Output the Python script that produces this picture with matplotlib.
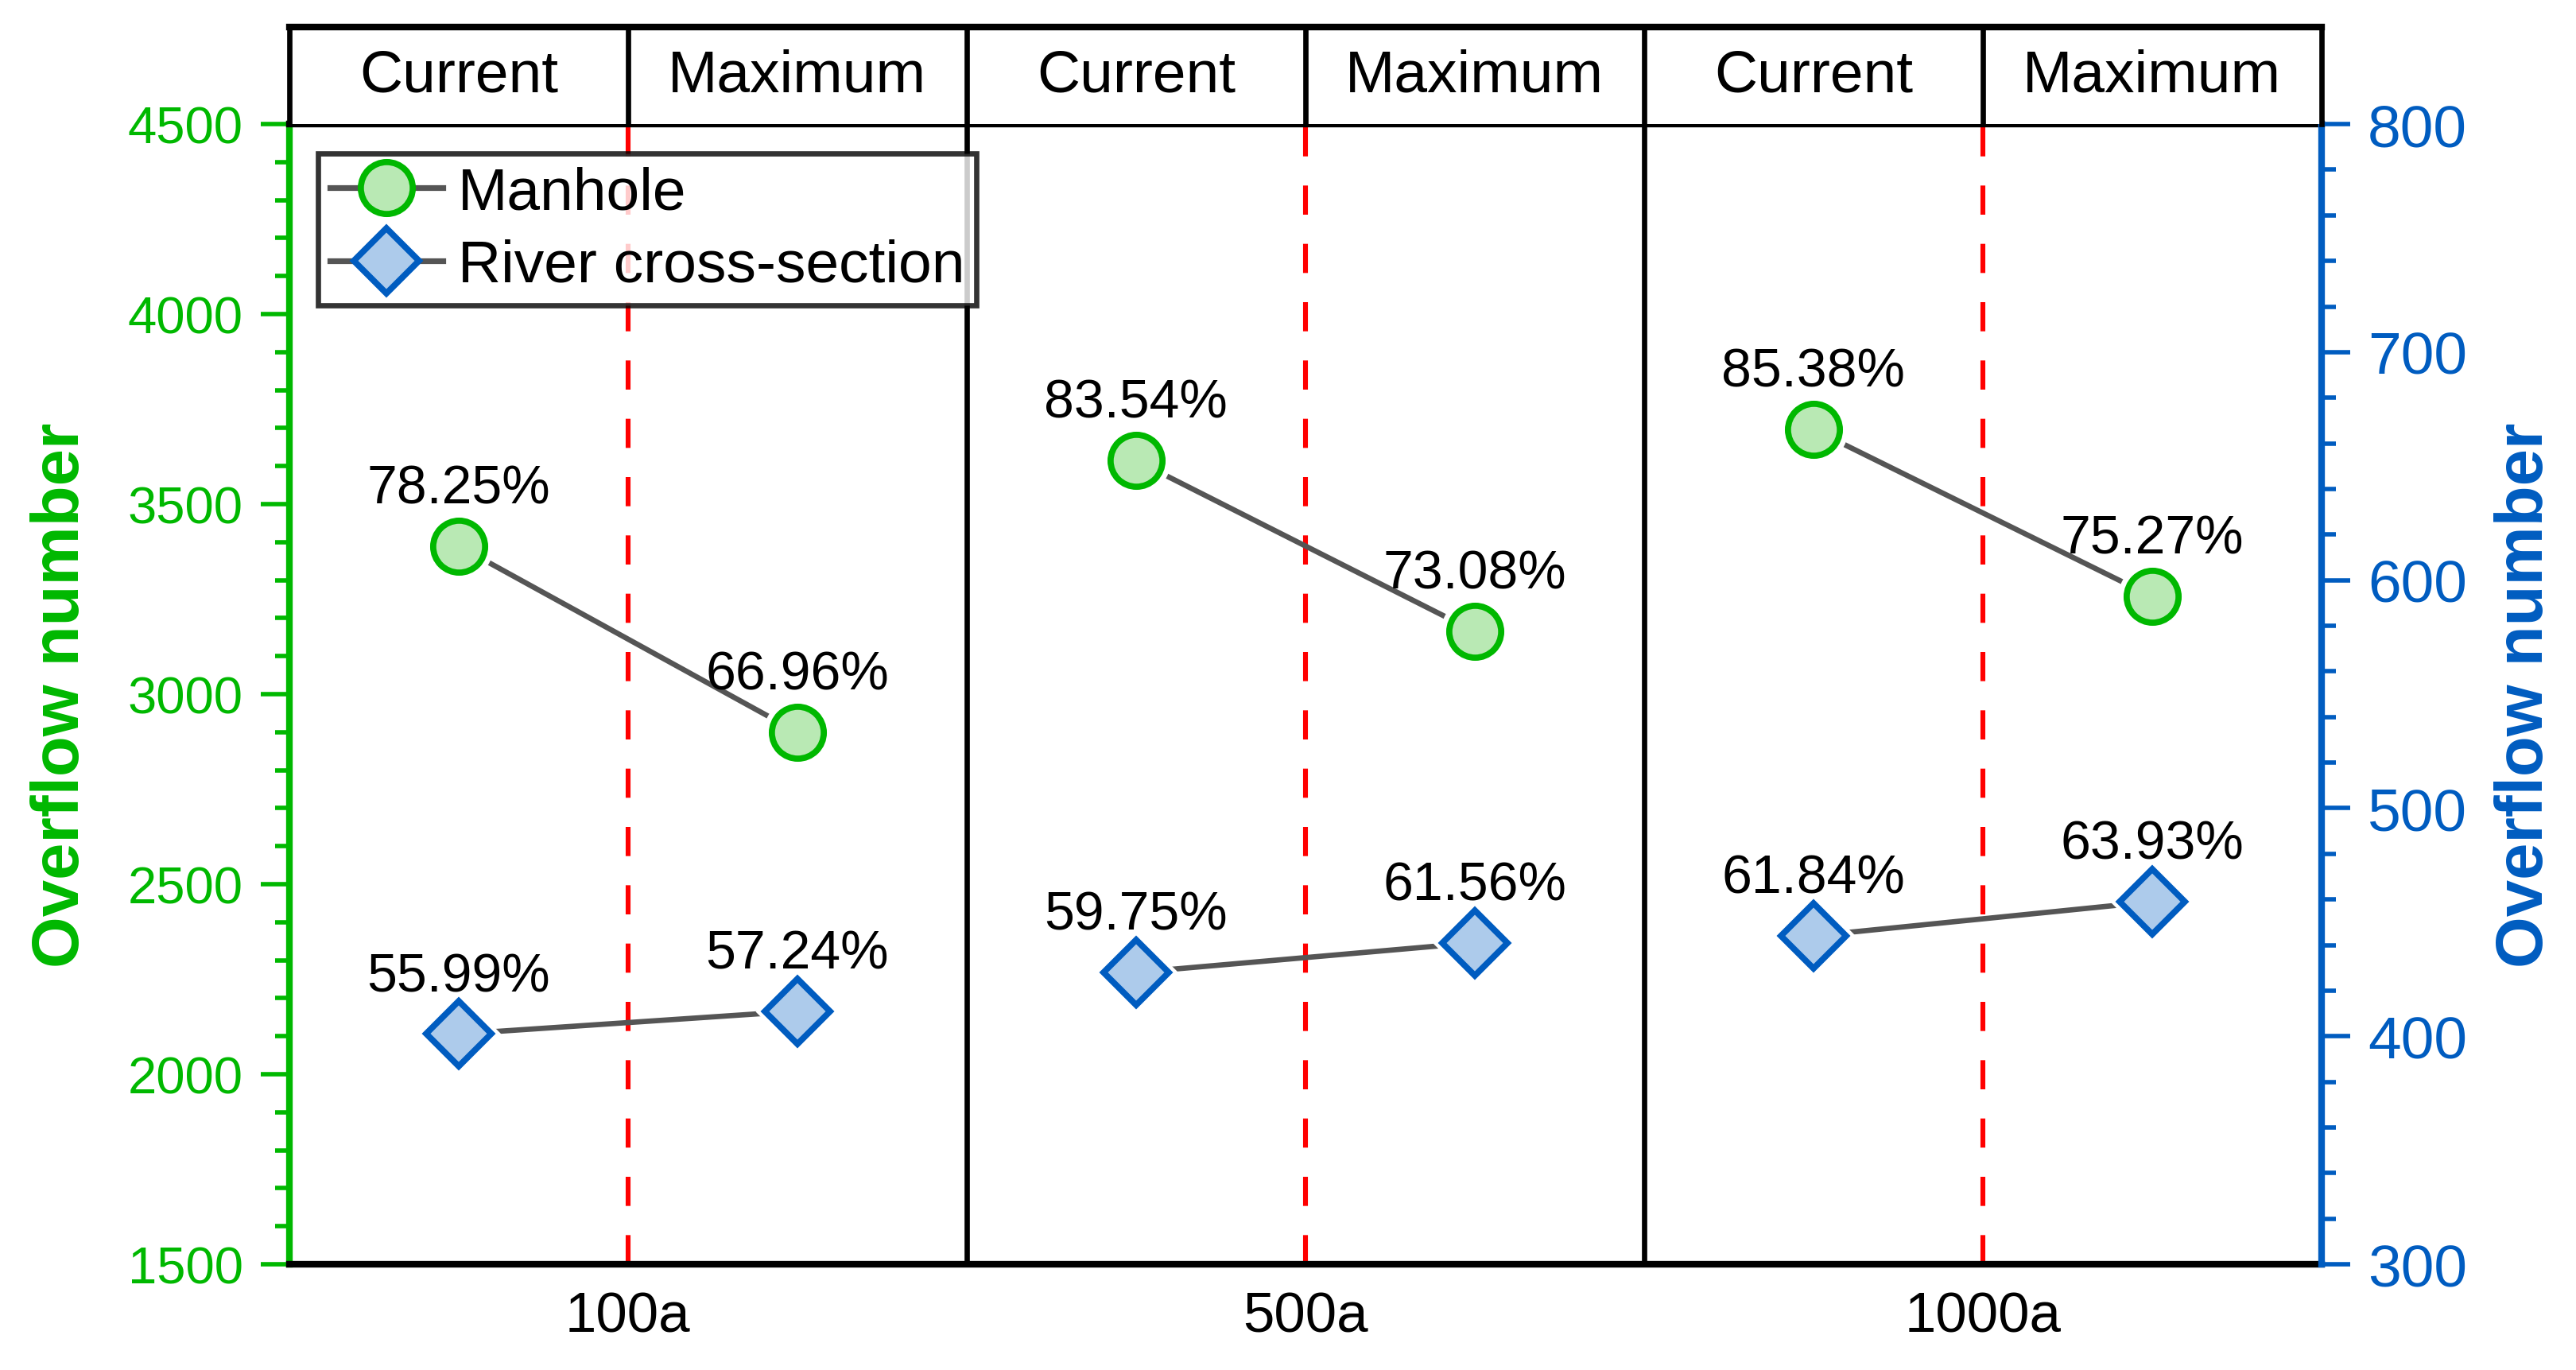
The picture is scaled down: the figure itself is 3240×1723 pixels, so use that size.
import matplotlib.pyplot as plt
from matplotlib.lines import Line2D
from matplotlib.ticker import MultipleLocator

#values
periods = ["100a", "500a", "1000a"]
scenarios = ["Current", "Maximum"]
manhole = [3390, 2900, 3615, 3165, 3697, 3257]
manhole_pct = ["78.25%", "66.96%", "83.54%", "73.08%", "85.38%", "75.27%"]
river = [401, 411, 428, 441, 444, 459]
river_pct = ["55.99%", "57.24%", "59.75%", "61.56%", "61.84%", "63.93%"]

green = "#00b800"
green_fill = "#b9e9b4"
blue = "#005cc0"
blue_fill = "#adcbeb"
line_grey = "#555555"

plt.rcParams["font.family"] = ["Liberation Sans", "DejaVu Sans"]

fig = plt.figure(figsize=(16.2, 8.62), dpi=200)
ax = fig.add_axes([0.1123, 0.0771, 0.7889, 0.8318])
ax2 = ax.twinx()
hx = fig.add_axes([0.1123, 0.9089, 0.7889, 0.0708])

#x position of each point: two scenarios per period
xpos = []
for i in range(len(periods)):
    for j in range(len(scenarios)):
        xpos.append(2 * i + j + 0.5)

#section dividers and dashed scenario split
for i in range(1, len(periods)):
    ax.axvline(2 * i, color="black", lw=2.4, zorder=1)
for i in range(len(periods)):
    ax.axvline(2 * i + 1, color="red", lw=2.2, dashes=(6, 6), zorder=1)

#plot each period as its own pair (white halo gives the gap at the markers)
for i in range(len(periods)):
    xs = xpos[2 * i:2 * i + 2]
    ys = manhole[2 * i:2 * i + 2]
    ax.plot(xs, ys, color=line_grey, lw=2.4, zorder=3)
    ax.plot(xs, ys, ls="none", marker="o", ms=30, mfc="white", mec="white", zorder=4)
    ax.plot(xs, ys, ls="none", marker="o", ms=23.5, mfc=green_fill, mec=green, mew=2.8, zorder=5)
    ys = river[2 * i:2 * i + 2]
    ax2.plot(xs, ys, color=line_grey, lw=2.4, zorder=3)
    ax2.plot(xs, ys, ls="none", marker="D", ms=26, mfc="white", mec="white", zorder=4)
    ax2.plot(xs, ys, ls="none", marker="D", ms=21, mfc=blue_fill, mec=blue, mew=2.8, zorder=5)

#percentage labels above markers
for k in range(len(xpos)):
    ax.annotate(manhole_pct[k], (xpos[k], manhole[k]), xytext=(0, 26),
                textcoords="offset points", ha="center", va="center", fontsize=24.5)
    ax2.annotate(river_pct[k], (xpos[k], river[k]), xytext=(0, 26),
                 textcoords="offset points", ha="center", va="center", fontsize=24.5)

#left axis
ax.set_xlim(0, 6)
ax.set_ylim(1500, 4500)
ax.yaxis.set_major_locator(MultipleLocator(500))
ax.yaxis.set_minor_locator(MultipleLocator(100))
ax.tick_params(axis="y", which="major", length=13, width=2, color=green,
               labelcolor=green, labelsize=23.5, pad=8)
ax.tick_params(axis="y", which="minor", length=6.5, width=2, color=green)
ax.set_ylabel("Overflow number", color=green, fontsize=30, fontweight="bold", labelpad=16)
ax.set_xticks([1, 3, 5], periods)
ax.tick_params(axis="x", length=0, labelsize=25.5, pad=12)
ax.spines["left"].set_color(green)
ax.spines["left"].set_linewidth(3)
ax.spines["bottom"].set_linewidth(3)
ax.spines["top"].set_linewidth(3)
ax.spines["right"].set_visible(False)

#right axis
ax2.set_ylim(300, 800)
ax2.yaxis.set_major_locator(MultipleLocator(100))
ax2.yaxis.set_minor_locator(MultipleLocator(20))
ax2.tick_params(axis="y", which="major", length=13, width=2, color=blue,
                labelcolor=blue, labelsize=27, pad=8)
ax2.tick_params(axis="y", which="minor", length=6.5, width=2, color=blue)
ax2.set_ylabel("Overflow number", color=blue, fontsize=30, fontweight="bold", labelpad=12)
ax2.spines["right"].set_color(blue)
ax2.spines["right"].set_linewidth(3)
for s in ["left", "top", "bottom"]:
    ax2.spines[s].set_visible(False)

#header row
hx.set_xlim(0, 6)
hx.set_ylim(0, 1)
hx.set_xticks([])
hx.set_yticks([])
hx.spines["top"].set_linewidth(3)
hx.spines["bottom"].set_visible(False)
hx.spines["left"].set_linewidth(2.4)
hx.spines["right"].set_linewidth(2.4)
for i in range(1, 6):
    hx.axvline(i, color="black", lw=2.4)
for k in range(len(xpos)):
    hx.text(xpos[k], 0.5, scenarios[k % 2], ha="center", va="center", fontsize=27)

#legend
handles = [
    Line2D([], [], color=line_grey, lw=2.6, marker="o", ms=23.5, mfc=green_fill, mec=green, mew=2.8),
    Line2D([], [], color=line_grey, lw=2.6, marker="D", ms=21, mfc=blue_fill, mec=blue, mew=2.8),
]
leg = ax.legend(handles, ["Manhole", "River cross-section"], loc="upper left",
                bbox_to_anchor=(0.014, 0.974), fontsize=27, frameon=True, fancybox=False,
                edgecolor="black", handlelength=1.9, handletextpad=0.25,
                borderpad=0.2, labelspacing=0.3, borderaxespad=0)
leg.get_frame().set_linewidth(2.4)
leg.set_zorder(10)

fig.savefig("out.png", dpi=200)
